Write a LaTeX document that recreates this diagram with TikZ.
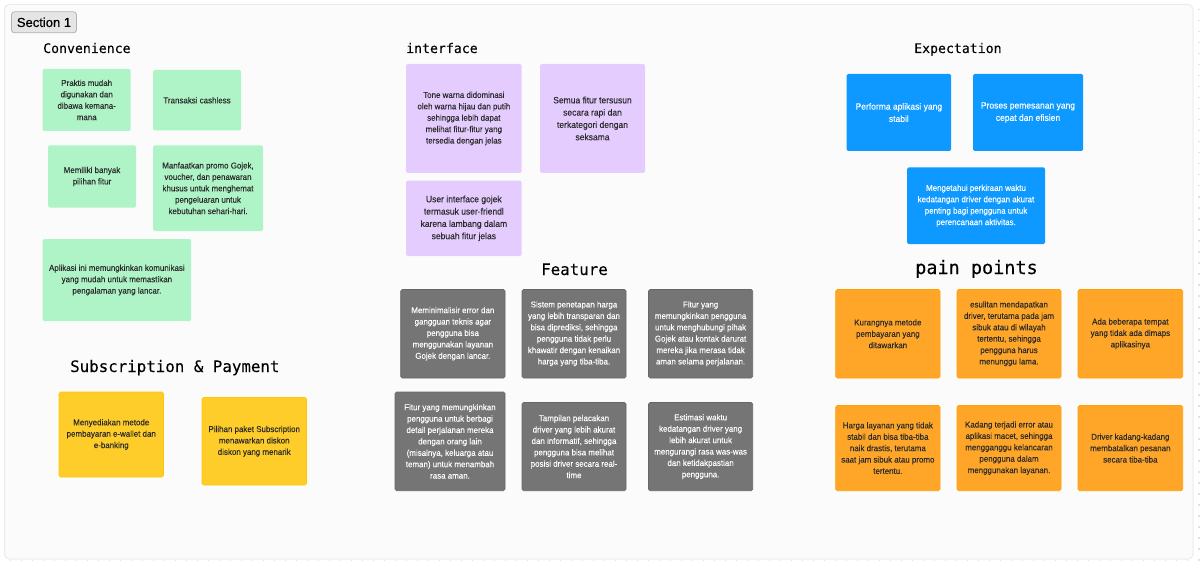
\documentclass[tikz,border=0pt]{standalone}
\usepackage{fontspec}
\setmainfont{Liberation Sans}[FakeBold=0.08,FakeStretch=0.935]
\newfontfamily\sectfont{Liberation Sans}[FakeBold=0.6]
\newfontfamily\headfont{DejaVu Sans Mono}[FakeBold=0.1]
\definecolor{panelbg}{HTML}{FBFBFC}
\definecolor{panelln}{HTML}{EBEBEB}
\definecolor{cgreen}{HTML}{AFF4C6}
\definecolor{cpurple}{HTML}{E4CCFF}
\definecolor{cgrey}{HTML}{757575}
\definecolor{cgreyln}{HTML}{666666}
\definecolor{cblue}{HTML}{0D99FF}
\definecolor{corange}{HTML}{FFA629}
\definecolor{corangeln}{HTML}{FFA200}
\definecolor{cyellow}{HTML}{FFCD29}
\definecolor{cyellowln}{HTML}{FFC700}
\definecolor{darktxt}{HTML}{2A2A2A}
\definecolor{dotcol}{HTML}{E2E2E2}
\newcommand{\card}[7]{\node[#6, minimum width={(#4-#2)*1pt}, minimum height={(#5-#3)*1pt}] (#1) at ({(#2+#4)/2},{(#3+#5)/2}) {#7};}
\tikzset{
  x=1pt, y=-1pt,
  cardbase/.style={rectangle, rounded corners=1.5pt, inner sep=0pt, align=center, font=\fontsize{8.5}{11.4}\selectfont},
  greencard/.style={cardbase, fill=cgreen, text=darktxt},
  purplecard/.style={cardbase, fill=cpurple, text=darktxt, font=\fontsize{9.1}{12.3}\selectfont},
  purplecardb/.style={purplecard, font=\fontsize{8.5}{11.4}\selectfont},
  greycard/.style={cardbase, fill=cgrey, draw=cgreyln, line width=0.6pt, text=white},
  bluecard/.style={cardbase, fill=cblue, text=white},
  bluecardb/.style={bluecard, font=\fontsize{9.1}{12.3}\selectfont},
  orangecard/.style={cardbase, fill=corange, draw=corangeln, line width=0.6pt, text=darktxt},
  yellowcard/.style={cardbase, fill=cyellow, draw=cyellowln, line width=0.6pt, text=darktxt},
  heading/.style={inner sep=0pt, anchor=base west, text=black, font=\headfont\fontsize{13.2}{15}\selectfont},
  headingbig/.style={heading, font=\headfont\fontsize{15.8}{18}\selectfont},
  headinghuge/.style={heading, font=\headfont\fontsize{18.5}{21}\selectfont},
}
\begin{document}
\begin{tikzpicture}
\useasboundingbox (0,0) rectangle (1200,567);
\fill[white] (0,0) rectangle (1200,567);
\foreach \i in {0,...,108} \fill[dotcol] ({10.2+11*\i},560) rectangle ++(1,1);
\foreach \j in {0,...,50} \fill[dotcol] (1198,{9+11*\j}) rectangle ++(2,1.5);
\draw[panelln, fill=panelbg, line width=1pt, rounded corners=5pt] (4.5,4.5) rectangle (1193,559);
\node[rectangle, rounded corners=3pt, fill=black!10, draw=black!30, line width=0.8pt, minimum width=65pt, minimum height=21pt, inner sep=0pt, text=black, font=\sectfont\fontsize{13}{15}\selectfont] (section) at (44,22.3) {Section 1};
\node[heading] (hconv) at (43,53) {Convenience};
\node[heading] (hint) at (406,53) {interface};
\node[heading] (hexp) at (914,53) {Expectation};
\node[headingbig] (hfeat) at (541,275) {Feature};
\node[headingbig] (hsub) at (70,372) {Subscription \& Payment};
\node[headinghuge] (hpain) at (915,274) {pain points};
\card{g1}{42.7}{69}{130.7}{131}{greencard}{Praktis mudah\\digunakan dan\\dibawa kemana-\\mana}
\card{g2}{153}{70}{241}{130.5}{greencard}{Transaksi cashless}
\card{g3}{48}{145.5}{136}{207.5}{greencard}{Memiliki banyak\\pilihan fitur}
\card{g4}{153}{145.5}{263}{231}{greencard}{Manfaatkan promo Gojek,\\voucher, dan penawaran\\khusus untuk menghemat\\pengeluaran untuk\\kebutuhan sehari-hari.}
\card{g5}{42.7}{239}{191}{321}{greencard}{Aplikasi ini memungkinkan komunikasi\\yang mudah untuk memastikan\\pengalaman yang lancar.}
\card{p1}{406}{64}{521.7}{173}{purplecardb}{Tone warna didominasi\\oleh warna hijau dan putih\\sehingga lebih dapat\\melihat fitur-fitur yang\\tersedia dengan jelas}
\card{p2}{540}{64}{645}{173}{purplecard}{Semua fitur tersusun\\secara rapi dan\\terkategori dengan\\seksama}
\card{p3}{406}{180.7}{521.7}{256}{purplecard}{User interface gojek\\termasuk user-friendl\\karena lambang dalam\\sebuah fitur jelas}
\card{f1}{400.7}{289.5}{505}{378}{greycard}{Meminimalisir error dan\\gangguan teknis agar\\pengguna bisa\\menggunakan layanan\\Gojek dengan lancar.}
\card{f2}{522}{289.5}{626}{378}{greycard}{Sistem penetapan harga\\yang lebih transparan dan\\bisa diprediksi, sehingga\\pengguna tidak perlu\\khawatir dengan kenaikan\\harga yang tiba-tiba.}
\card{f3}{648.5}{289.5}{752.7}{378}{greycard}{Fitur yang\\memungkinkan pengguna\\untuk menghubungi pihak\\Gojek atau kontak darurat\\mereka jika merasa tidak\\aman selama perjalanan.}
\card{f4}{395}{392}{505}{490.7}{greycard}{Fitur yang memungkinkan\\pengguna untuk berbagi\\detail perjalanan mereka\\dengan orang lain\\(misalnya, keluarga atau\\teman) untuk menambah\\rasa aman.}
\card{f5}{522}{402.5}{626}{490.7}{greycard}{Tampilan pelacakan\\driver yang lebih akurat\\dan informatif, sehingga\\pengguna bisa melihat\\posisi driver secara real-\\time}
\card{f6}{648.5}{402.5}{752.7}{490.7}{greycard}{Estimasi waktu\\kedatangan driver yang\\lebih akurat untuk\\mengurangi rasa was-was\\dan ketidakpastian\\pengguna.}
\card{b1}{846.7}{74}{951}{151}{bluecardb}{Performa aplikasi yang\\stabil}
\card{b2}{973}{74}{1083}{151}{bluecardb}{Proses pemesanan yang\\cepat dan efisien}
\card{b3}{907}{167.5}{1045}{244}{bluecard}{Mengetahui perkiraan waktu\\kedatangan driver dengan akurat\\penting bagi pengguna untuk\\perencanaan aktivitas.}
\card{o1}{835.7}{289.5}{940}{378}{orangecard}{Kurangnya metode\\pembayaran yang\\ditawarkan}
\card{o2}{957}{289.5}{1061}{378}{orangecard}{esulitan mendapatkan\\driver, terutama pada jam\\sibuk atau di wilayah\\tertentu, sehingga\\pengguna harus\\menunggu lama.}
\card{o3}{1078}{289.5}{1182.7}{378}{orangecard}{Ada beberapa tempat\\yang tidak ada dimaps\\aplikasinya}
\card{o4}{835.7}{405.5}{940}{490.7}{orangecard}{Harga layanan yang tidak\\stabil dan bisa tiba-tiba\\naik drastis, terutama\\saat jam sibuk atau promo\\tertentu.}
\card{o5}{957}{405.5}{1061}{490.7}{orangecard}{Kadang terjadi error atau\\aplikasi macet, sehingga\\mengganggu kelancaran\\pengguna dalam\\menggunakan layanan.}
\card{o6}{1078}{405.5}{1182.7}{490.7}{orangecard}{Driver kadang-kadang\\membatalkan pesanan\\secara tiba-tiba}
\card{y1}{59}{392}{163.5}{477}{yellowcard}{Menyediakan metode\\pembayaran e-wallet dan\\e-banking}
\card{y2}{202}{397.5}{306.5}{485}{yellowcard}{Pilihan paket Subscription\\menawarkan diskon\\diskon yang menarik}
\end{tikzpicture}
\end{document}
